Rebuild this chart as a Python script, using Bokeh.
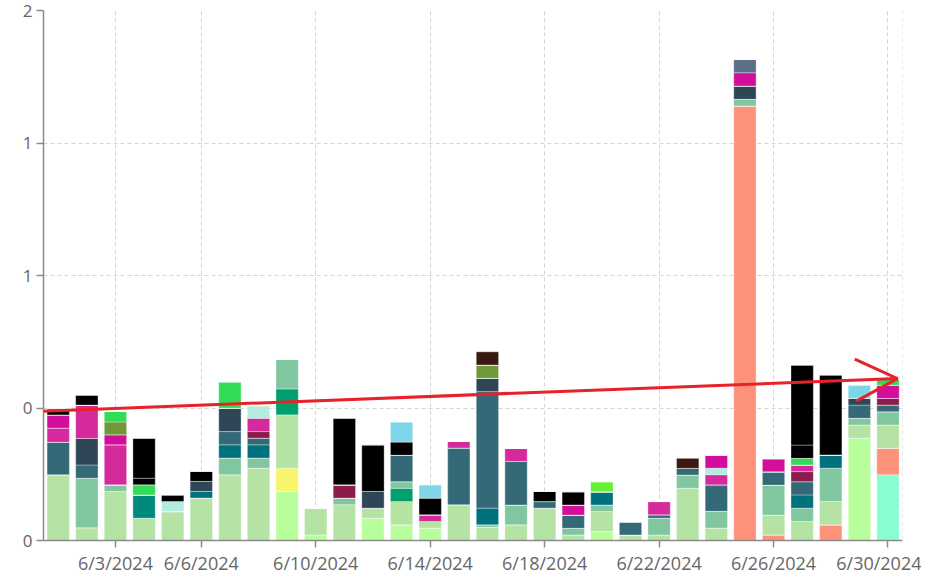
import pandas as pd
from bokeh.plotting import figure
from bokeh.models import (ColumnDataSource, Range1d, FixedTicker, DatetimeTickFormatter,
                          Arrow, OpenHead, Span)
from bokeh.embed import file_html
from bokeh.resources import INLINE

# ---------------- data ----------------
dates = pd.date_range("2024-06-01", "2024-06-30", freq="D")

def day_vals(d):
    v = [0.0] * 30
    for k, x in d.items():
        v[k - 1] = x
    return v

# series (bottom -> top of each stack), values per day of June 2024
aquamarine   = day_vals({30: 0.248})
salmon       = day_vals({25: 1.64, 26: 0.021, 28: 0.059, 30: 0.10})
lime         = day_vals({9: 0.185, 10: 0.021, 12: 0.084, 13: 0.059, 14: 0.047, 20: 0.034, 29: 0.386})
yellow       = day_vals({9: 0.088})
light_green  = day_vals({1: 0.248, 2: 0.048, 3: 0.185, 4: 0.084, 5: 0.109, 6: 0.16, 7: 0.248, 8: 0.273,
                         9: 0.201, 10: 0.10, 11: 0.135, 12: 0.038, 13: 0.088, 14: 0.025, 15: 0.135,
                         16: 0.05, 17: 0.059, 18: 0.122, 19: 0.021, 20: 0.075, 21: 0.021, 22: 0.021,
                         23: 0.197, 24: 0.047, 26: 0.075, 27: 0.072, 28: 0.088, 29: 0.05, 30: 0.088})
emerald      = day_vals({9: 0.098, 13: 0.05})
mint         = day_vals({2: 0.187, 3: 0.025, 7: 0.063, 8: 0.038, 9: 0.113, 11: 0.025, 13: 0.025,
                         16: 0.009, 17: 0.075, 19: 0.025, 20: 0.025, 22: 0.063, 23: 0.05, 24: 0.063,
                         25: 0.025, 26: 0.113, 27: 0.05, 28: 0.126, 29: 0.025, 30: 0.05})
teal_green   = day_vals({4: 0.088})
teal         = day_vals({6: 0.025, 7: 0.05, 8: 0.05, 16: 0.063, 20: 0.05, 27: 0.05, 28: 0.05})
teal_slate   = day_vals({1: 0.123, 2: 0.05, 7: 0.05, 8: 0.025, 13: 0.10, 15: 0.214, 16: 0.44,
                         17: 0.164, 18: 0.025, 19: 0.05, 21: 0.05, 22: 0.013, 23: 0.025, 24: 0.10,
                         26: 0.05, 27: 0.05, 29: 0.05, 30: 0.025})
dark_slate   = day_vals({2: 0.10, 6: 0.038, 7: 0.088, 12: 0.063, 16: 0.05, 25: 0.05, 29: 0.025})
maroon       = day_vals({8: 0.025, 11: 0.05, 27: 0.038, 30: 0.025})
pink         = day_vals({1: 0.053, 2: 0.126, 3: 0.151, 8: 0.05, 14: 0.025, 15: 0.025, 17: 0.05,
                         22: 0.05, 24: 0.038, 27: 0.025})
pale_mint    = day_vals({5: 0.038, 8: 0.048, 24: 0.025})
magenta      = day_vals({1: 0.05, 3: 0.038, 19: 0.038, 24: 0.05, 25: 0.05, 26: 0.05, 30: 0.05})
slate_blue   = day_vals({25: 0.05})
olive        = day_vals({3: 0.048, 16: 0.05})
bright_green = day_vals({3: 0.04, 4: 0.038, 7: 0.10, 27: 0.025, 30: 0.023})
bright_lime  = day_vals({20: 0.038})
black_a      = day_vals({1: 0.023, 2: 0.038, 4: 0.025, 5: 0.025, 6: 0.038, 11: 0.252, 12: 0.176,
                         13: 0.05, 14: 0.063, 18: 0.038, 19: 0.05, 27: 0.05, 28: 0.302})
black_b      = day_vals({4: 0.151, 27: 0.302})
light_blue   = day_vals({13: 0.075, 14: 0.05, 29: 0.05})
brown        = day_vals({16: 0.05, 23: 0.038})

series_names = ["aquamarine", "salmon", "lime", "yellow", "light_green", "emerald", "mint",
                "teal_green", "teal", "teal_slate", "dark_slate", "maroon", "pink", "pale_mint",
                "magenta", "slate_blue", "olive", "bright_green", "bright_lime", "black_a",
                "black_b", "light_blue", "brown"]
series_values = [aquamarine, salmon, lime, yellow, light_green, emerald, mint, teal_green, teal,
                 teal_slate, dark_slate, maroon, pink, pale_mint, magenta, slate_blue, olive,
                 bright_green, bright_lime, black_a, black_b, light_blue, brown]
series_colors = ["#88fdd0", "#fe917a", "#b8fe9c", "#f7f56b", "#b4e3a4", "#00a06e", "#80c7a0",
                 "#008a7e", "#00727e", "#346a77", "#2f4656", "#8b1c4b", "#d52a9b", "#b2ede0",
                 "#d10f9a", "#5c6f89", "#6f9838", "#33dc55", "#66f033", "#000000", "#000000",
                 "#7dd6e8", "#3a1a10"]

y_ticks = [0, 0.5, 1, 1.5, 2]
y_tick_labels = ["0", "0", "1", "1", "2"]
x_tick_dates = ["2024-06-03", "2024-06-06", "2024-06-10", "2024-06-14",
                "2024-06-18", "2024-06-22", "2024-06-26", "2024-06-30"]

trend_x = ["2024-05-31 11:40", "2024-06-30 08:00"]
trend_y = [0.488, 0.611]

# ---------------- plot ----------------
def ms(t):
    return pd.Timestamp(t).value // 10**6

DAY = 86400000
data = {"date": dates}
for n, v in zip(series_names, series_values):
    data[n] = v
source = ColumnDataSource(data)

p = figure(width=921, height=581, output_backend="svg", toolbar_location=None,
           x_axis_type="datetime",
           x_range=Range1d(ms("2024-06-01") - 0.515 * DAY, ms("2024-06-30") + 0.507 * DAY),
           y_range=Range1d(0, 2),
           min_border_left=43, min_border_right=19, min_border_top=10, min_border_bottom=41)
p.background_fill_color = "white"
p.border_fill_color = "white"
p.outline_line_color = None

p.vbar_stack(series_names, x="date", width=0.78 * DAY, color=series_colors, source=source,
             line_color="white", line_width=0.6, line_alpha=0.55)

# axes
p.xaxis.ticker = FixedTicker(ticks=[ms(d) for d in x_tick_dates])
p.xaxis.formatter = DatetimeTickFormatter(days="%-m/%-d/%Y", months="%-m/%-d/%Y")
p.yaxis.ticker = FixedTicker(ticks=y_ticks)
p.yaxis.major_label_overrides = {t: l for t, l in zip(y_ticks, y_tick_labels)}

for ax in (p.xaxis[0], p.yaxis[0]):
    ax.axis_line_color = "#8a8a8a"
    ax.axis_line_width = 1.5
    ax.major_tick_line_color = "#8a8a8a"
    ax.major_tick_line_width = 1.5
    ax.major_tick_out = 7
    ax.major_tick_in = 0
    ax.minor_tick_line_color = None
    ax.major_label_text_font = "Open Sans"
    ax.major_label_text_color = "#666666"
p.xaxis.major_label_text_font_size = "18px"
p.yaxis.major_label_text_font_size = "17px"
p.xaxis.major_label_standoff = 3
p.yaxis.major_label_standoff = 4

for g in (p.xgrid[0], p.ygrid[0]):
    g.grid_line_color = "#d4d4d4"
    g.grid_line_dash = "4 3"
    g.grid_line_width = 1

p.add_layout(Span(location=ms("2024-06-30") + 0.507 * DAY, dimension="height",
                  line_color="#d4d4d4", line_dash="4 3", line_width=1))

# trend arrow
p.add_layout(Arrow(end=OpenHead(size=42, line_color="#e8222a", line_width=3),
                   x_start=ms(trend_x[0]), y_start=trend_y[0],
                   x_end=ms(trend_x[1]), y_end=trend_y[1],
                   line_color="#e8222a", line_width=3))

open("out.html", "w").write(file_html(p, INLINE))
